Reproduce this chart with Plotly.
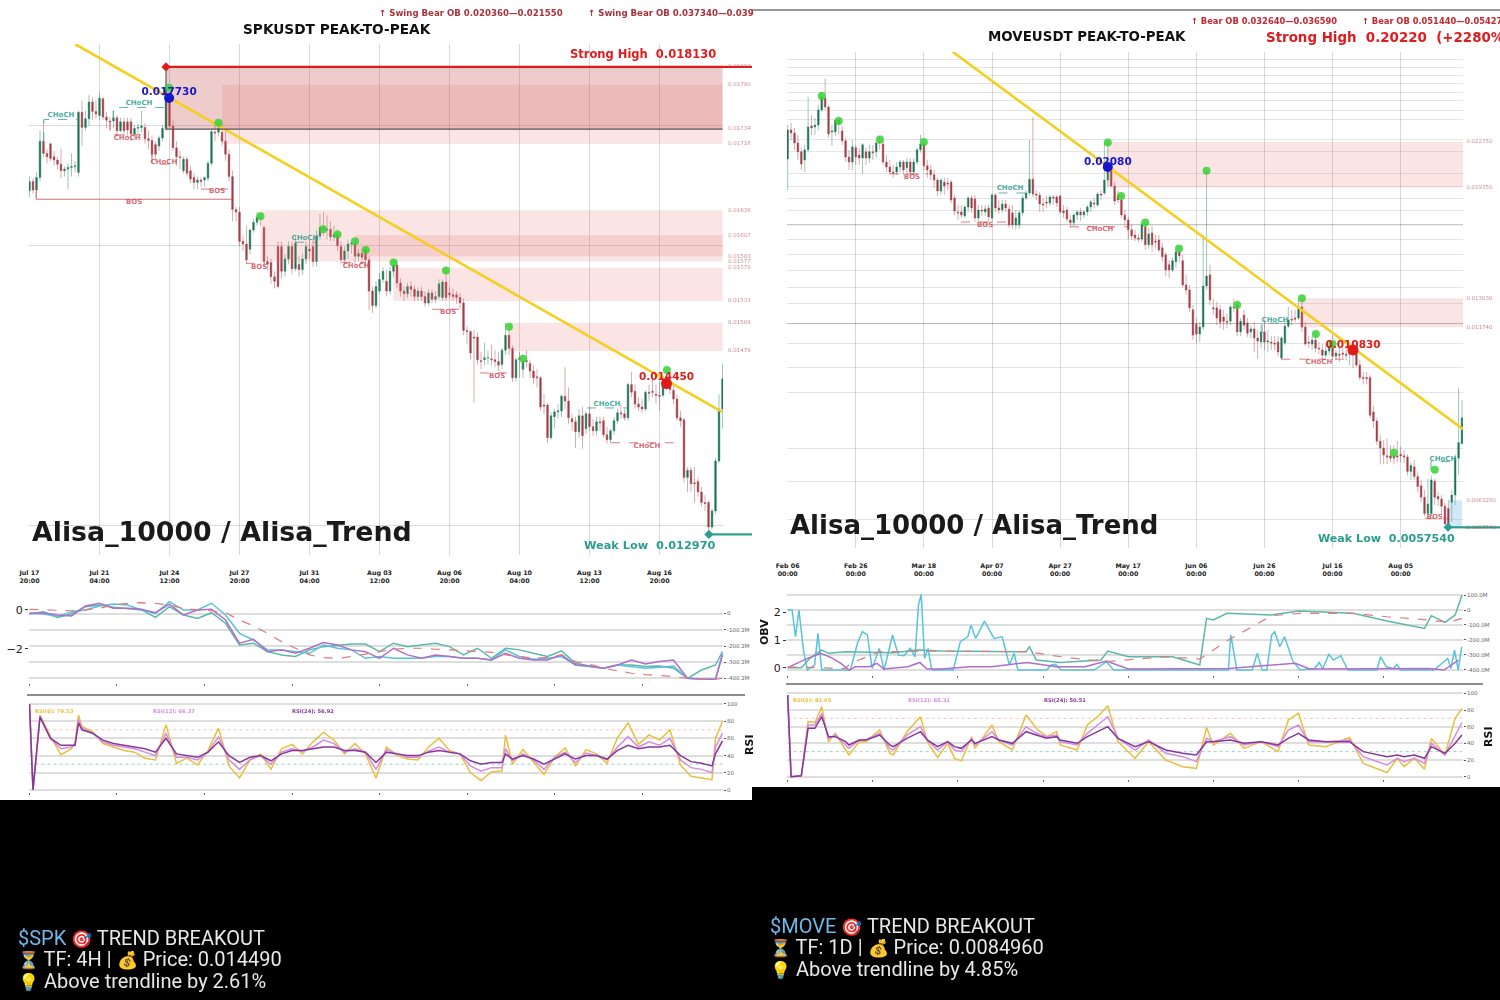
import math

import plotly.graph_objects as go

# prices are kept in units of 0.00001 USDT, OBV in millions, x in candle numbers
spk_open = [1659,1670,1660,1675,1719,1704,1716,1700,1696,1691,1683,1685,1687,1688,1681,1755,1736,1747,1768,1756,
            1751,1772,1749,1744,1744,1748,1732,1743,1743,1743,1728,1735,1736,1736,1722,1720,1715,1713,1723,1735,
            1773,1738,1711,1700,1683,1697,1683,1675,1669,1672,1672,1674,1692,1730,1730,1730,1719,1703,1676,1637,
            1634,1600,1597,1591,1613,1622,1628,1616,1577,1576,1560,1594,1594,1566,1580,1594,1569,1574,1568,1580,
            1591,1594,1577,1606,1616,1614,1614,1605,1608,1594,1579,1589,1597,1598,1583,1586,1591,1579,1544,1528,
            1544,1557,1555,1544,1566,1573,1553,1544,1541,1549,1546,1538,1544,1538,1531,1542,1535,1538,1537,1554,
            1542,1540,1540,1537,1531,1501,1500,1494,1494,1469,1470,1472,1471,1470,1468,1465,1480,1496,1482,1451,
            1472,1460,1469,1466,1458,1452,1451,1423,1423,1390,1411,1416,1417,1432,1427,1409,1406,1396,1412,1399,
            1414,1401,1397,1406,1407,1393,1388,1397,1407,1415,1414,1410,1444,1437,1424,1421,1419,1436,1437,1434,
            1433,1433,1444,1444,1438,1429,1410,1408,1351,1358,1346,1347,1337,1327,1327,1304,1319,1367,1419]
spk_close = [1670,1660,1675,1719,1704,1700,1698,1696,1691,1683,1685,1687,1688,1689,1755,1736,1747,1768,1756,1753,
             1773,1749,1745,1743,1748,1732,1743,1732,1733,1728,1735,1736,1738,1722,1720,1703,1703,1723,1735,1787,
             1738,1711,1700,1699,1697,1680,1673,1669,1672,1670,1675,1692,1731,1729,1735,1719,1703,1676,1637,1634,
             1600,1597,1579,1613,1622,1628,1626,1577,1574,1560,1555,1549,1566,1580,1594,1569,1598,1568,1580,1594,
             1589,1577,1606,1616,1614,1613,1605,1608,1595,1579,1589,1597,1598,1583,1586,1582,1579,1544,1528,1549,
             1557,1566,1544,1566,1573,1553,1544,1541,1549,1546,1538,1544,1538,1531,1542,1535,1538,1552,1554,1537,
             1540,1538,1537,1531,1501,1500,1477,1493,1470,1468,1472,1472,1470,1468,1464,1480,1496,1482,1451,1470,
             1470,1468,1468,1458,1451,1451,1421,1422,1390,1412,1416,1417,1432,1427,1410,1406,1396,1412,1392,1414,
             1401,1397,1406,1405,1393,1388,1397,1407,1415,1414,1410,1444,1436,1424,1421,1419,1436,1435,1436,1433,
             1432,1444,1452,1439,1429,1410,1407,1351,1358,1345,1345,1337,1327,1326,1304,1319,1367,1419,1450]
spk_high = [1676,1674,1681,1732,1745,1709,1716,1707,1700,1710,1688,1692,1704,1695,1757,1770,1757,1777,1774,1770,
            1780,1774,1755,1749,1757,1751,1748,1748,1748,1748,1739,1741,1757,1741,1732,1726,1719,1726,1739,1790,
            1787,1745,1719,1707,1700,1700,1689,1680,1676,1675,1676,1695,1735,1738,1743,1743,1732,1709,1683,1640,
            1640,1606,1618,1614,1626,1634,1634,1618,1583,1580,1566,1600,1600,1585,1600,1600,1606,1583,1586,1600,
            1602,1603,1613,1632,1634,1630,1623,1618,1614,1600,1594,1602,1602,1602,1591,1593,1593,1583,1549,1555,
            1564,1571,1568,1571,1580,1577,1558,1549,1553,1555,1550,1548,1549,1544,1546,1546,1544,1557,1557,1567,
            1549,1547,1544,1542,1536,1506,1501,1501,1499,1478,1488,1480,1486,1480,1478,1482,1509,1504,1485,1472,
            1478,1475,1480,1470,1464,1460,1453,1434,1425,1416,1419,1424,1434,1462,1441,1414,1411,1419,1421,1416,
            1421,1409,1411,1411,1411,1401,1399,1411,1419,1424,1419,1446,1457,1444,1431,1429,1438,1444,1451,1444,
            1447,1453,1459,1449,1444,1434,1417,1410,1361,1361,1361,1351,1342,1334,1329,1321,1370,1434,1466]
spk_low = [1651,1656,1651,1670,1700,1692,1695,1689,1684,1674,1676,1661,1676,1681,1676,1713,1732,1738,1745,1747,
           1745,1745,1735,1732,1735,1726,1730,1726,1726,1719,1722,1728,1730,1716,1709,1699,1695,1707,1719,1732,
           1735,1707,1689,1685,1680,1676,1668,1661,1661,1664,1664,1670,1689,1719,1725,1713,1695,1670,1623,1623,
           1594,1589,1574,1585,1610,1618,1618,1571,1567,1552,1547,1547,1558,1560,1574,1563,1566,1560,1562,1574,
           1580,1571,1571,1602,1606,1602,1600,1600,1589,1574,1574,1580,1586,1574,1577,1574,1571,1523,1520,1525,
           1542,1553,1538,1540,1560,1547,1538,1533,1536,1538,1533,1533,1533,1527,1528,1531,1531,1535,1533,1533,
           1536,1533,1530,1525,1496,1486,1470,1425,1465,1460,1464,1465,1464,1462,1458,1460,1475,1475,1447,1447,
           1451,1451,1462,1451,1444,1441,1417,1414,1385,1388,1399,1409,1411,1419,1404,1397,1380,1390,1379,1394,
           1397,1392,1392,1397,1390,1384,1385,1393,1404,1409,1407,1407,1431,1419,1417,1415,1417,1427,1431,1424,
           1417,1431,1438,1434,1424,1407,1401,1346,1337,1337,1327,1332,1323,1319,1297,1302,1316,1365,1399]
spk_ticks = list(range(0, 200, 20))
spk_ticktext = ["Jul 17<br>20:00", "Jul 21<br>04:00", "Jul 24<br>12:00", "Jul 27<br>20:00", "Jul 31<br>04:00",
                "Aug 03<br>12:00", "Aug 06<br>20:00", "Aug 10<br>04:00", "Aug 13<br>12:00", "Aug 16<br>20:00"]
spk_grid = [1738, 1595, 1305]
spk_trend_x = [13, 197.9]
spk_trend_y = [1843, 1416]
spk_zone_start = [39, 55, 66, 93, 104, 137]
spk_zone_top = [1813, 1790, 1636, 1607, 1570, 1509]
spk_zone_bottom = [1734, 1716, 1577, 1583, 1533, 1479]
spk_levels = [1813, 1790, 1734, 1716, 1636, 1607, 1583, 1577, 1570, 1533, 1509, 1479]
spk_level_text = ["0.01813", "0.01790", "0.01734", "0.01716", "0.01636", "0.01607",
                  "0.01583", "0.01577", "0.01570", "0.01533", "0.01509", "0.01479"]
spk_pivot_x = [39.9, 54, 66, 83.9, 88, 93, 96.1, 104, 119, 137, 141, 182.1]
spk_pivot_y = [1786, 1742, 1629, 1614, 1608, 1600, 1590, 1576, 1567, 1505, 1471, 1459]
spk_teal_x = [4.1, 4.1, 14.1, None, 23.9, 23.9, 38.7, None, 75.9, 81.6, None, 159.3, 170.7]
spk_teal_y = [1719, 1746, 1746, None, 1746, 1761, 1761, None, 1599, 1599, None, 1420, 1420]
spk_teal_lx = [9, 31.3, 78.7, 165]
spk_teal_ly = [1751, 1766, 1603, 1424]
spk_red_x = [23, 23, 33, None, 35, 35, 42, None, 49, 57.3, None, 61.9, 67.3, None, 89.3, 96.1,
             None, 115, 123, None, 128.7, 137.9, None, 166.1, 187]
spk_red_y = [1744, 1727, 1727, None, 1703, 1691, 1691, None, 1661, 1661, None, 1575, 1575, None, 1576, 1576,
             None, 1524, 1524, None, 1456, 1456, None, 1385, 1385]
spk_bos_x = [1.9, 1.9, 57.9]
spk_bos_y = [1659, 1649, 1649]
spk_red_lx = [27.9, 38.4, 29.9, 53.6, 65.6, 93.3, 119.6, 133.6, 176.4]
spk_red_ly = [1723, 1693, 1645, 1658, 1571, 1572, 1521, 1453, 1382]
spk_red_lt = ["CHoCH", "CHoCH", "BOS", "BOS", "BOS", "CHoCH", "BOS", "BOS", "CHoCH"]

spk_obv_x = list(range(0, 200, 4)) + [198]
spk_obv_teal = [-3,11,-24,-3,42,52,38,28,22,-24,42,-9,-30,5,-60,-194,-183,-235,-255,-265,-224,-204,-194,-188,-188,
                -235,-183,-204,-194,-183,-204,-255,-214,-276,-214,-224,-245,-265,-230,-306,-323,-337,-317,-317,-327,
                -323,-337,-399,-348,-317,-235]
spk_obv_blue = [1,-3,-19,11,22,46,58,52,22,1,73,22,22,63,-9,-122,-163,-224,-224,-235,-245,-194,-214,-224,-276,
                -265,-276,-276,-276,-265,-265,-276,-276,-286,-224,-265,-282,-276,-265,-317,-327,-337,-317,-327,-337,
                -331,-323,-399,-405,-405,-245]
spk_obv_purple = [1,5,-9,-15,46,63,32,32,26,5,58,-9,22,26,-40,-183,-159,-235,-224,-245,-214,-179,-194,-224,-235,
                  -276,-214,-255,-276,-255,-265,-276,-276,-286,-245,-276,-286,-286,-255,-317,-323,-337,-317,-286,-311,
                  -296,-286,-399,-405,-405,-255]
spk_obv_ma = [26,22,17,17,22,32,52,63,67,63,52,32,22,17,5,-40,-77,-122,-173,-214,-255,-272,-276,-265,-249,
              -235,-220,-214,-214,-220,-224,-229,-233,-239,-255,-265,-274,-272,-255,-296,-311,-337,-354,-368,-376,
              -382,-388,-399,-405,-405,-399]
spk_obv_ticks = [0, -100.2, -200.2, -300.2, -400.2]
spk_obv_text = ["0", "-100.2M", "-200.2M", "-300.2M", "-400.2M"]

spk_rsi_x = [0,1,3,6,9,12,13,14,15,18,21,24,27,30,33,36,39,42,45,48,51,54,57,60,63,66,69,72,75,78,81,84,87,90,93,96,
             99,102,105,108,111,114,117,120,123,126,129,132,135,136,138,141,144,147,150,153,156,159,162,165,168,171,
             174,177,180,183,186,189,192,195,196,198]
spk_rsi6 = [100,0,87,62,41,48,55,87,74,68,54,50,46,44,37,35,76,31,37,29,46,72,28,14,35,42,24,48,53,42,56,67,58,42,54,
            42,14,50,40,36,35,50,60,46,42,20,11,21,22,64,30,47,32,18,38,49,28,47,42,31,61,78,53,64,58,70,29,16,14,12,60,80]
spk_rsi12 = [100,0,85,60,48,50,52,82,72,66,56,52,50,48,44,40,66,38,38,35,44,62,35,24,35,40,30,44,48,45,50,58,54,44,48,
             44,24,47,42,38,38,45,50,44,42,28,22,26,26,48,34,42,35,24,38,44,32,43,40,35,50,62,50,56,52,60,35,26,24,20,50,66]
spk_rsi24 = [100,0,85,60,52,52,52,78,70,66,58,54,52,50,48,44,60,42,40,38,44,56,40,32,38,40,34,42,46,46,48,50,50,46,46,
             44,32,44,42,40,40,44,46,44,42,34,30,32,32,42,36,40,36,30,36,42,36,40,40,36,46,52,48,50,50,52,40,33,31,28,42,57]

move_open = [2142,2376,2350,2268,2197,2134,2213,2410,2400,2418,2552,2663,2579,2359,2359,2461,2367,2285,2157,2119,
             2229,2172,2149,2197,2149,2197,2197,2276,2260,2119,2082,2045,2045,2082,2119,2075,2119,2045,2119,2213,
             2260,2090,2060,2024,1986,1910,1972,1965,1972,1863,1773,1773,1748,1804,1863,1857,1735,1785,1773,1798,
             1735,1883,1798,1785,1824,1792,1767,1693,1693,1767,1863,1897,1993,1890,1883,1824,1837,1830,1870,1870,
             1877,1779,1785,1723,1705,1754,1773,1754,1773,1804,1830,1817,1890,1897,1986,2075,1945,1883,1850,1754,
             1723,1663,1633,1615,1609,1681,1577,1645,1598,1604,1560,1521,1468,1441,1484,1537,1489,1366,1342,1250,
             1187,1146,1175,1361,1416,1259,1259,1250,1218,1200,1200,1263,1272,1155,1227,1192,1155,1167,1130,1114,
             1155,1114,1114,1110,1114,1052,1110,1179,1209,1214,1214,1263,1175,1114,1106,1122,1090,1083,1063,1079,
             1102,1059,1067,1071,1067,1067,1102,1087,1026,982,982,982,868,840,782,763,742,742,742,742,
             746,742,739,702,714,689,667,640,604,604,678,642,636,620,615,628,645,736,775]
move_close = [2376,2350,2268,2197,2104,2213,2400,2393,2418,2552,2672,2579,2342,2367,2461,2427,2285,2157,2119,2237,
              2157,2149,2253,2149,2197,2190,2268,2268,2119,2082,2045,2038,2082,2119,2060,2119,2045,2119,2213,2260,
              2090,2060,2024,1986,1910,1986,1945,1958,1850,1779,1767,1754,1804,1863,1798,1735,1785,1779,1792,1742,
              1883,1798,1785,1824,1798,1693,1693,1735,1767,1863,1897,1993,1890,1883,1824,1817,1830,1870,1863,1830,
              1773,1767,1729,1705,1754,1773,1754,1773,1804,1837,1824,1890,1883,1986,2082,1945,1843,1850,1754,1723,
              1663,1627,1615,1609,1693,1577,1639,1577,1592,1548,1510,1441,1441,1489,1537,1516,1366,1342,1259,1142,
              1146,1175,1361,1410,1295,1254,1214,1196,1200,1196,1263,1259,1155,1200,1183,1150,1167,1130,1118,1155,
              1114,1118,1110,1106,1075,1130,1179,1205,1205,1209,1263,1175,1106,1110,1122,1090,1087,1063,1079,1098,
              1059,1071,1063,1067,1063,1102,1075,1026,982,978,978,858,840,782,763,744,739,736,736,739,
              742,739,702,717,689,665,640,604,625,681,640,636,620,582,578,645,736,778,850]
move_high = [2418,2435,2393,2334,2229,2253,2672,2507,2480,2598,2720,2858,2598,2418,2480,2496,2410,2310,2213,2292,
             2253,2229,2268,2229,2253,2253,2292,2326,2292,2172,2134,2097,2119,2134,2134,2149,2149,2149,2229,2334,
             2276,2134,2097,2060,2003,2003,2003,2003,1986,1883,1817,1817,1817,1877,1883,1883,1817,1817,1817,1817,
             1897,1897,1850,1850,1850,1817,1817,1785,1785,1883,1917,2292,2488,1917,1903,1863,1877,1883,1883,1883,
             1883,1817,1804,1754,1767,1785,1798,1785,1817,1850,1863,1903,1917,2276,2276,2097,1972,1917,1877,1785,
             1742,1693,1663,1639,1711,1711,1675,1687,1633,1633,1586,1537,1494,1505,1560,1560,1521,1416,1366,1272,
             1214,1196,1633,2045,1468,1300,1286,1272,1250,1232,1272,1300,1295,1214,1250,1214,1183,1196,1163,1183,
             1205,1163,1138,1138,1138,1138,1205,1263,1250,1250,1300,1300,1196,1138,1138,1150,1114,1106,1106,1122,
             1142,1083,1090,1090,1098,1114,1122,1102,1044,1001,1001,989,887,849,800,785,790,771,771,782,
             766,758,746,725,731,702,681,657,684,691,684,652,645,628,634,657,746,947,906]
move_low = [1917,2292,2213,2134,2060,2045,2190,2334,2334,2376,2534,2552,2310,2245,2326,2334,2253,2119,2060,2060,
            2097,2097,2031,2097,2112,2134,2149,2213,2097,2045,2024,2003,2024,2045,2024,2024,2017,2024,2097,2190,
            2060,2003,1986,1931,1877,1883,1883,1917,1830,1754,1723,1735,1735,1773,1767,1711,1711,1748,1748,1711,
            1711,1773,1760,1767,1773,1675,1669,1663,1669,1748,1850,1883,1870,1850,1773,1773,1798,1811,1817,1804,
            1760,1735,1711,1675,1687,1723,1717,1735,1748,1773,1798,1804,1850,1883,1945,1938,1817,1830,1735,1693,
            1609,1604,1598,1592,1592,1548,1554,1537,1554,1537,1484,1410,1400,1430,1452,1484,1352,1318,1241,1122,
            1110,1114,1163,1342,1272,1228,1183,1170,1163,1170,1183,1241,1138,1138,1163,1134,1130,1075,1048,1090,
            1083,1075,1083,1083,1059,1044,1102,1170,1183,1196,1205,1155,1098,1090,1083,1075,1067,1044,1052,1063,
            1044,1044,1037,1052,1044,1026,1015,1019,972,958,958,849,820,771,720,720,720,725,720,725,
            725,723,692,681,681,652,628,598,601,598,622,620,601,580,575,586,622,694,806]
move_ticks = list(range(0, 200, 20))
move_ticktext = ["Feb 06<br>00:00", "Feb 26<br>00:00", "Mar 18<br>00:00", "Apr 07<br>00:00", "Apr 27<br>00:00",
                 "May 17<br>00:00", "Jun 06<br>00:00", "Jun 26<br>00:00", "Jul 16<br>00:00", "Aug 05<br>00:00"]
move_grid = [3050,2973,2890,2800,2720,2637,2544,2462,2292,2196,2034,1940,1860,1780,1693,
             1609,1525,1437,1356,1280,1190,1110,1017,932,763,678,592]
move_dark_grid = [1693, 1190]
move_trend_x = [48.5, 198.3]
move_trend_y = [3138, 816]
move_zone_start = [93.8, 150.4]
move_zone_top = [2275, 1303]
move_zone_bottom = [1935, 1174]
move_blue_x = [194.2, 198]
move_blue_top = 633
move_blue_bottom = 575
move_levels = [2275, 1935, 1303, 1174, 633, 575]
move_level_text = ["0.022750", "0.019350", "0.013030", "0.011740", "0.0063280", "0.0057540"]
move_pivot_x = [10, 15, 27.1, 40, 94, 97.9, 105, 114.9, 123, 132, 151, 155.1, 160, 178, 190]
move_pivot_y = [2681, 2452, 2296, 2275, 2271, 1877, 1707, 1556, 2053, 1272, 1303, 1147, 1106, 750, 706]
move_teal_x = [60, 60, 69.7, None, 139.3, 139.3, 147.5, None, 188.9, 188.9, 196]
move_teal_y = [1820, 1897, 1897, None, 1150, 1192, 1192, None, 706, 727, 727]
move_teal_lx = [65.3, 143.1, 192.4]
move_teal_ly = [1926, 1205, 734]
move_red_x = [30, 41.2, None, 50.9, 65.3, None, 82.9, 100, None, 144.9, 165.8, None, 187.2, 193.9]
move_red_y = [2031, 2031, None, 1710, 1710, None, 1681, 1681, None, 1048, 1048, None, 594, 594]
move_red_lx = [36.5, 58, 91.7, 156, 190]
move_red_ly = [2008, 1693, 1669, 1037, 596]
move_red_lt = ["BOS", "BOS", "CHoCH", "CHoCH", "BOS"]

move_teal_obv_x = [0,4,6.5,10,12,17,31,38,45,59,70,71,73,80,92,94,100,113,121,123,125,129,142,150,166,176,187,189,193,196,198]
move_teal_obv = [-386,-386,-324,-268,-290,-279,-286,-268,-275,-279,-279,-246,-335,-351,-335,-275,-313,-313,-368,-56,-67,
                 -22,-33,-7,-22,-74,-123,-38,-83,-33,100]
move_blue_obv_x = [0,1.3,2.3,3.3,4.7,5.8,7.9,8.9,10,18.4,20.5,21.9,23.4,24.8,26.9,28.3,30.8,32.5,34.2,36,37.4,38.4,39.2,
                   40.2,41.2,42.3,48.6,50.7,52.9,53.8,55.2,57.8,60.6,63,65.1,66.5,67.6,76,77.4,78.6,80.3,90,93.6,95.7,
                   129.4,130.1,131.9,136.4,137.9,139.3,140.7,142.1,143,144.5,145.9,148.4,150.5,154.7,156.1,157.1,158.9,
                   160.3,162.4,164.5,173,174.1,175.8,177.9,178.9,180,189.8,193.8,194.8,195.8,196.9,197.9]
move_blue_obv = [0,0,-179,0,-279,-402,-368,-156,-402,-402,-223,-145,-167,-391,-257,-402,-167,-302,-306,-257,-313,33,105,
                 -324,-257,-402,-402,-212,-179,-101,-190,-74,-190,-179,-368,-290,-402,-402,-368,-364,-402,-402,-346,-402,
                 -402,-167,-402,-402,-290,-402,-402,-167,-145,-246,-179,-346,-402,-391,-351,-395,-297,
                 -335,-306,-402,-402,-313,-380,-391,-364,-402,-402,-324,-391,-268,-402,-246]
move_purple_obv_x = [0,5.8,9.7,12.8,15.6,18.1,19.8,24,26.2,28.3,35.3,38.8,40.9,45.1,53.6,59.9,70.4,78.8,87.3,93.6,100,
                     129.4,149,153.3,188.4,192.7,197]
move_purple_obv = [-386,-324,-290,-319,-357,-402,-380,-380,-357,-395,-380,-351,-395,-395,-380,-380,-351,-380,-380,-342,
                   -395,-391,-357,-395,-391,-402,-335]
move_ma_obv_x = [0,17,18.4,26.9,45.1,59.2,70.4,80.3,92.9,111.2,121,129.4,142.1,150.5,166,176,188.4,194,198]
move_ma_obv = [-380,-391,-357,-279,-275,-279,-279,-313,-346,-313,-328,-201,-38,-22,-22,-45,-67,-83,-56]
move_obv_ticks = [100, 0, -100, -200, -300, -400]
move_obv_text = ["100.0M", "0", "-100.0M", "-200.0M", "-300.0M", "-400.0M"]

move_rsi_x = [0,1,4,6,8,10,12,14,17,18,21,23,27,30,31,35,39,41,44,47,49,51,54,55,60,62,66,70,73,76,79,80,85,88,91,94,97,
              102,106,111,116,120,123,125,130,134,139,144,147,150,153,158,165,169,176,179,181,184,187,189,193,196,198]
move_rsi6 = [98,0,1,66,65,84,42,52,32,26,42,42,56,28,26,54,72,42,23,40,22,19,48,34,62,42,32,74,58,48,54,38,32,62,72,
             85,42,22,42,20,12,10,59,38,52,34,42,30,68,76,38,36,47,16,5,22,12,22,9,46,26,70,82]
move_rsi12 = [98,0,1,62,62,76,46,50,38,34,44,44,52,34,32,50,60,44,32,42,32,30,46,38,54,44,38,60,52,48,50,42,38,52,62,
              72,46,32,44,28,24,18,46,42,48,38,42,36,56,62,42,42,44,24,14,22,18,22,16,40,26,50,65]
move_rsi24 = [98,0,1,58,58,72,48,48,42,38,44,44,50,38,36,46,54,44,36,42,36,34,44,40,48,44,40,54,50,46,48,44,40,48,54,
              60,46,36,42,32,28,26,42,42,44,40,42,38,46,52,44,42,42,30,24,26,24,26,22,36,28,40,50]

rsi_ticks = [100, 80, 60, 40, 20, 0]
small_ticks = list(range(0, 200, 25))

UP = "#1d6f52"
DOWN = "#a23a46"
UP_WICK = "rgba(40,130,100,0.45)"
DOWN_WICK = "rgba(170,70,80,0.45)"
TEAL = "#2a9d8f"
RED = "#e01b1b"
LABEL_RED = "rgba(205,70,80,0.8)"
LABEL_TEAL = "rgba(42,157,143,0.85)"
ZONE_RED = "rgba(235,110,110,0.19)"
GOLD = "#f5cf1f"
FONT = "DejaVu Sans"
PAGE_W, PAGE_H = 1500, 1000

fig = go.Figure()
annotations = []


def note(px, py, text, size, color, anchor="center", bold=True, angle=0, font=FONT):
    label = f"<b>{text}</b>" if bold else text
    annotations.append(dict(xref="paper", yref="paper", x=px / PAGE_W, y=1 - py / PAGE_H, text=label,
                            showarrow=False, xanchor=anchor, yanchor="middle", textangle=angle,
                            font=dict(family=font, size=size, color=color)))


def emoji(symbol):
    return f"<span style='font-size:17px'>{symbol}</span>"


def zone(axes, x0, x1, top, bottom, color):
    fig.add_trace(go.Scatter(x=[x0, x1, x1, x0, x0], y=[top, top, bottom, bottom, top], mode="lines", fill="toself",
                             fillcolor=color, line=dict(width=0), hoverinfo="skip", **axes))


def line(axes, xs, ys, color, width=1, dash="solid"):
    fig.add_trace(go.Scatter(x=xs, y=ys, mode="lines", line=dict(color=color, width=width, dash=dash),
                             hoverinfo="skip", connectgaps=False, **axes))


def labels(axes, xs, ys, texts, color, size, position="middle center"):
    fig.add_trace(go.Scatter(x=xs, y=ys, mode="text", text=texts, textposition=position, cliponaxis=False,
                             textfont=dict(family=FONT, size=size, color=color), hoverinfo="skip", **axes))


def markers(axes, xs, ys, color, size, symbol="circle", opacity=1.0):
    fig.add_trace(go.Scatter(x=xs, y=ys, mode="markers", cliponaxis=False, opacity=opacity, hoverinfo="skip",
                             marker=dict(color=color, size=size, symbol=symbol, line=dict(width=0)), **axes))


def price_panel(axes, opens, closes, highs, lows, zones, trend):
    for z in zones:
        zone(axes, *z)
    fig.add_trace(go.Candlestick(x=list(range(len(opens))), open=opens, high=highs, low=lows, close=closes,
                                 increasing=dict(line=dict(color=UP_WICK, width=1), fillcolor=UP),
                                 decreasing=dict(line=dict(color=DOWN_WICK, width=1), fillcolor=DOWN),
                                 whiskerwidth=0, hoverinfo="skip", **axes))
    line(axes, trend[0], trend[1], GOLD, 2.6)


def obv_panel(axes, series):
    for xs, ys, color, dash, width in series:
        line(axes, xs, ys, color, width, dash)


def rsi_panel(axes, xs, rsi6, rsi12, rsi24):
    line(axes, [0, 198], [70, 70], "rgba(230,120,120,0.45)", 1, "dot")
    line(axes, [0, 198], [30, 30], "rgba(60,170,150,0.55)", 1, "dot")
    line(axes, xs, rsi6, "#e8bf3e", 1.5)
    line(axes, xs, rsi12, "#d68ae0", 1.5)
    line(axes, xs, rsi24, "#86379c", 1.5)


# SPK panel
ax = dict(xaxis="x", yaxis="y")
spk_zones = [(39, 198, 1813, 1734, "rgba(145,60,60,0.15)")]
spk_zones += [(s, 198, t, b, ZONE_RED) for s, t, b in zip(spk_zone_start, spk_zone_top, spk_zone_bottom)]
price_panel(ax, spk_open, spk_close, spk_high, spk_low, spk_zones, (spk_trend_x, spk_trend_y))
line(ax, spk_teal_x, spk_teal_y, LABEL_TEAL, 0.9, "dash")
line(ax, spk_red_x, spk_red_y, LABEL_RED, 0.9, "dash")
line(ax, spk_bos_x, spk_bos_y, LABEL_RED, 1)
labels(ax, spk_teal_lx, spk_teal_ly, ["<b>CHoCH</b>"] * 4, LABEL_TEAL, 7)
labels(ax, spk_red_lx, spk_red_ly, [f"<b>{t}</b>" for t in spk_red_lt], LABEL_RED, 7)
line(ax, [39, 39, 198], [1813, 1734, 1734], "#555555", 1.1)
line(ax, [39, 198.14], [1813, 1813], RED, 2.2)
line(ax, [194.1, 198.14], [1297, 1297], TEAL, 2.2)
markers(ax, spk_pivot_x, spk_pivot_y, "#35d435", 8, opacity=0.85)
markers(ax, [39.9], [1773], "#1616cc", 10)
markers(ax, [182], [1445], "#e01b1b", 11)
markers(ax, [39], [1813], RED, 7, "diamond")
markers(ax, [194.1], [1297], TEAL, 7, "diamond")
labels(ax, [39.9], [1780], ["<b>0.017730</b>"], "#1616cc", 10.5)
labels(ax, [182], [1451], ["<b>0.014450</b>"], "#e01b1b", 10.5)

# strip right of the SPK candles: level labels and the line ends
ax = dict(xaxis="x9", yaxis="y9")
line(ax, [198.14, 206.43], [1813, 1813], RED, 2.2)
line(ax, [198.14, 206.43], [1297, 1297], TEAL, 2.2)
labels(ax, [199.6] * len(spk_levels), spk_levels, spk_level_text, "rgba(175,70,80,0.65)", 5.5, "middle right")

# SPK OBV and RSI
obv_panel(dict(xaxis="x2", yaxis="y2"), [(spk_obv_x, spk_obv_teal, "#5bb8a8", "solid", 1.5),
                                         (spk_obv_x, spk_obv_blue, "#58c3dd", "solid", 1.5),
                                         (spk_obv_x, spk_obv_purple, "#b06ec8", "solid", 1.5),
                                         (spk_obv_x, spk_obv_ma, "#de7c7c", "dash", 1.2)])
line(dict(xaxis="x2", yaxis="y3"), [None], [None], "#000000")
rsi_panel(dict(xaxis="x4", yaxis="y4"), spk_rsi_x, spk_rsi6, spk_rsi12, spk_rsi24)

# MOVE panel
ax = dict(xaxis="x5", yaxis="y5")
move_zones = [(s, 198.3, t, b, ZONE_RED) for s, t, b in zip(move_zone_start, move_zone_top, move_zone_bottom)]
move_zones.append((move_blue_x[0], move_blue_x[1], move_blue_top, move_blue_bottom, "rgba(90,175,225,0.28)"))
for g in move_dark_grid:
    line(ax, [-0.2, 198.3], [g, g], "rgba(0,0,0,0.2)")
price_panel(ax, move_open, move_close, move_high, move_low, move_zones, (move_trend_x, move_trend_y))
line(ax, move_teal_x, move_teal_y, LABEL_TEAL, 0.9, "dash")
line(ax, move_red_x, move_red_y, LABEL_RED, 0.9, "dash")
labels(ax, move_teal_lx, move_teal_ly, ["<b>CHoCH</b>"] * 3, LABEL_TEAL, 7)
labels(ax, move_red_lx, move_red_ly, [f"<b>{t}</b>" for t in move_red_lt], LABEL_RED, 7)
line(ax, [193.9, 198.3], [575, 575], TEAL, 2.2)
markers(ax, move_pivot_x, move_pivot_y, "#35d435", 8, opacity=0.85)
markers(ax, [94], [2081], "#1616cc", 10)
markers(ax, [166], [1083], "#e01b1b", 11)
markers(ax, [193.9], [575], TEAL, 7, "diamond")
labels(ax, [94], [2119], ["<b>0.02080</b>"], "#1616cc", 10.5)
labels(ax, [166], [1102], ["<b>0.010830</b>"], "#e01b1b", 10.5)

# strip right of the MOVE candles
ax = dict(xaxis="x10", yaxis="y10")
line(ax, [198.3, 209.2], [575, 575], TEAL, 2.2)
labels(ax, [199.3] * len(move_levels), move_levels, move_level_text, "rgba(175,70,80,0.65)", 5.5, "middle right")

# MOVE OBV and RSI
obv_panel(dict(xaxis="x6", yaxis="y6"), [(move_blue_obv_x, move_blue_obv, "#58c3dd", "solid", 1.5),
                                         (move_teal_obv_x, move_teal_obv, "#5bb8a8", "solid", 1.5),
                                         (move_purple_obv_x, move_purple_obv, "#b06ec8", "solid", 1.5),
                                         (move_ma_obv_x, move_ma_obv, "#de7c7c", "dash", 1.2)])
line(dict(xaxis="x6", yaxis="y7"), [None], [None], "#000000")
rsi_panel(dict(xaxis="x8", yaxis="y8"), move_rsi_x, move_rsi6, move_rsi12, move_rsi24)


def px_x(a, b):
    return [a / PAGE_W, b / PAGE_W]


def px_y(top, bottom):
    return [1 - bottom / PAGE_H, 1 - top / PAGE_H]


def price_x(domain, rng, ticks, text, anchor):
    return dict(domain=domain, range=rng, anchor=anchor, tickmode="array", tickvals=ticks, ticktext=text,
                showgrid=True, gridcolor="rgba(0,0,0,0.15)", gridwidth=1, zeroline=False, showline=False, ticks="",
                ticklabelstandoff=13, tickfont=dict(family=FONT, size=6.3, color="#222222", weight="bold"),
                rangeslider=dict(visible=False))


def price_y(domain, rng, ticks, anchor, grid="rgba(0,0,0,0.14)"):
    return dict(domain=domain, type="log", range=rng, anchor=anchor, tickmode="array", tickvals=ticks,
                showticklabels=False, showgrid=True, gridcolor=grid, gridwidth=1,
                zeroline=False, showline=False, ticks="")


def strip_x(domain, rng, anchor):
    return dict(domain=domain, range=rng, anchor=anchor, visible=False)


def strip_y(domain, rng, anchor):
    return dict(domain=domain, type="log", range=rng, anchor=anchor, visible=False)


def pane_x(domain, rng, anchor):
    return dict(domain=domain, range=rng, anchor=anchor, tickmode="array", tickvals=small_ticks, showticklabels=False,
                showgrid=False, zeroline=False, showline=False, ticks="outside", ticklen=2, tickcolor="#666666")


def pane_y(domain, rng, ticks, text, anchor):
    return dict(domain=domain, range=rng, anchor=anchor, side="right", tickmode="array", tickvals=ticks, ticktext=text,
                showgrid=True, gridcolor="#dedede", gridwidth=1.5, zeroline=False, showline=False,
                ticks="outside", ticklen=2, tickcolor="#555555",
                tickfont=dict(family=FONT, size=5.5, color="#666666"))


def side_y(domain, rng, ticks, text, anchor, over):
    return dict(domain=domain, range=rng, anchor=anchor, side="left", overlaying=over, tickmode="array", tickvals=ticks,
                ticktext=text, showgrid=False, zeroline=False, showline=False, ticks="outside", ticklen=3,
                tickcolor="#333333", tickfont=dict(family=FONT, size=11, color="#222222"))


left = px_x(29, 723)
right = px_x(787, 1463)
left_rng = [-0.14, 198.14]
right_rng = [-0.2, 198.3]
spk_price_rng = [math.log10(1278), math.log10(1843)]
move_price_rng = [math.log10(534), math.log10(3138)]

shapes = [
    dict(type="rect", xref="paper", yref="paper", x0=0, x1=752 / PAGE_W, y0=0.2, y1=1, fillcolor="white",
         line_width=0, layer="below"),
    dict(type="rect", xref="paper", yref="paper", x0=752 / PAGE_W, x1=1, y0=1 - 787 / PAGE_H, y1=1, fillcolor="white",
         line_width=0, layer="below"),
    dict(type="line", xref="paper", yref="paper", x0=752 / PAGE_W, x1=1, y0=0.99, y1=0.99,
         line=dict(color="#333333", width=1)),
    dict(type="line", xref="paper", yref="paper", x0=27 / PAGE_W, x1=745 / PAGE_W, y0=1 - 695 / PAGE_H,
         y1=1 - 695 / PAGE_H, line=dict(color="#666666", width=1.5)),
    dict(type="line", xref="paper", yref="paper", x0=786 / PAGE_W, x1=1483 / PAGE_W, y0=1 - 684 / PAGE_H,
         y1=1 - 684 / PAGE_H, line=dict(color="#666666", width=1.5)),
]

note(337, 29, "SPKUSDT PEAK-TO-PEAK", 13.7, "#111111")
note(1087, 36, "MOVEUSDT PEAK-TO-PEAK", 13.4, "#111111")
note(377, 13, "↑ Swing Bear OB 0.020360—0.021550", 8.6, "#a8323c", "left")
note(586, 13, "↑ Swing Bear OB 0.037340—0.039", 8.6, "#a8323c", "left")
note(1189, 21, "↑ Bear OB 0.032640—0.036590", 8.3, "#c2262e", "left")
note(1360, 21, "↑ Bear OB 0.051440—0.05427", 8.3, "#c2262e", "left")
note(718, 54, "Strong High  0.018130", 11.5, RED, "right")
note(1264, 37, "Strong High  0.20220  (+2280%", 13.4, RED, "left")
note(718, 545, "Weak Low  0.012970", 11.3, TEAL, "right")
note(1457, 538, "Weak Low  0.0057540", 11.1, TEAL, "right")
note(30, 531, "Alisa_10000 / Alisa_Trend", 26.8, "#1a1a1a", "left")
note(788, 525, "Alisa_10000 / Alisa_Trend", 26, "#1a1a1a", "left")
note(33, 711, "RSI(6): 79.53", 5.2, "#e8bf3e", "left")
note(151, 711, "RSI(12): 66.37", 5.2, "#d68ae0", "left")
note(290, 711, "RSI(24): 56.92", 5.2, "#86379c", "left")
note(791, 700, "RSI(6): 82.05", 5.2, "#e8bf3e", "left")
note(906, 700, "RSI(12): 65.32", 5.2, "#d68ae0", "left")
note(1042, 700, "RSI(24): 50.51", 5.2, "#86379c", "left")
note(749, 745, "RSI", 11, "#111111", angle=-90)
note(1488, 737, "RSI", 11, "#111111", angle=-90)
note(764, 632, "OBV", 11, "#111111", angle=-90)

caption = "Roboto"
note(16, 938, f"<span style='color:#6fb8e8'>$SPK</span> {emoji('🎯')} TREND BREAKOUT", 20, "#e8e8e8", "left", False,
     font=caption)
note(16, 959, f"{emoji('⏳')} TF: 4H | {emoji('💰')} Price: 0.014490", 20, "#e8e8e8", "left", False, font=caption)
note(16, 981, f"{emoji('💡')} Above trendline by 2.61%", 20, "#e8e8e8", "left", False, font=caption)
note(768, 926, f"<span style='color:#6fb8e8'>$MOVE</span> {emoji('🎯')} TREND BREAKOUT", 20, "#e8e8e8", "left", False,
     font=caption)
note(768, 947, f"{emoji('⏳')} TF: 1D | {emoji('💰')} Price: 0.0084960", 20, "#e8e8e8", "left", False, font=caption)
note(768, 969, f"{emoji('💡')} Above trendline by 4.85%", 20, "#e8e8e8", "left", False, font=caption)

fig.update_layout(
    width=PAGE_W, height=PAGE_H, margin=dict(l=0, r=0, t=0, b=0, pad=0, autoexpand=False), autosize=False,
    showlegend=False, paper_bgcolor="black", plot_bgcolor="rgba(0,0,0,0)", shapes=shapes, annotations=annotations,
    xaxis=price_x(left, left_rng, spk_ticks, spk_ticktext, "y"),
    yaxis=price_y(px_y(44, 555), spk_price_rng, spk_grid, "x"),
    xaxis2=pane_x(left, left_rng, "y2"),
    yaxis2=pane_y(px_y(595, 683), [-428, 114], spk_obv_ticks, spk_obv_text, "x2"),
    yaxis3=side_y(px_y(595, 683), [-3.744, 0.769], [0, -2], ["0", "−2"], "x2", "y2"),
    xaxis4=pane_x(left, left_rng, "y4"),
    yaxis4=pane_y(px_y(702, 792), [-2.3, 102.3], rsi_ticks, [str(t) for t in rsi_ticks], "x4"),
    xaxis5=price_x(right, right_rng, move_ticks, move_ticktext, "y5"),
    yaxis5=price_y(px_y(52, 548), move_price_rng, move_grid, "x5", "rgba(0,0,0,0.1)"),
    xaxis6=pane_x(right, right_rng, "y6"),
    yaxis6=pane_y(px_y(593, 675), [-435, 114], move_obv_ticks, move_obv_text, "x6"),
    yaxis7=side_y(px_y(593, 675), [-0.253, 2.708], [0, 1, 2], ["0", "1", "2"], "x6", "y6"),
    xaxis8=pane_x(right, right_rng, "y8"),
    yaxis8=pane_y(px_y(691, 779), [-2.8, 102.8], rsi_ticks, [str(t) for t in rsi_ticks], "x8"),
    xaxis9=strip_x(px_x(723, 752), [198.14, 206.43], "y9"),
    yaxis9=strip_y(px_y(44, 555), spk_price_rng, "x9"),
    xaxis10=strip_x(px_x(1463, 1500), [198.3, 209.2], "y10"),
    yaxis10=strip_y(px_y(52, 548), move_price_rng, "x10"),
)

fig.write_html("out.html", config={"displayModeBar": False}, post_script="document.body.style.margin = '0';")
